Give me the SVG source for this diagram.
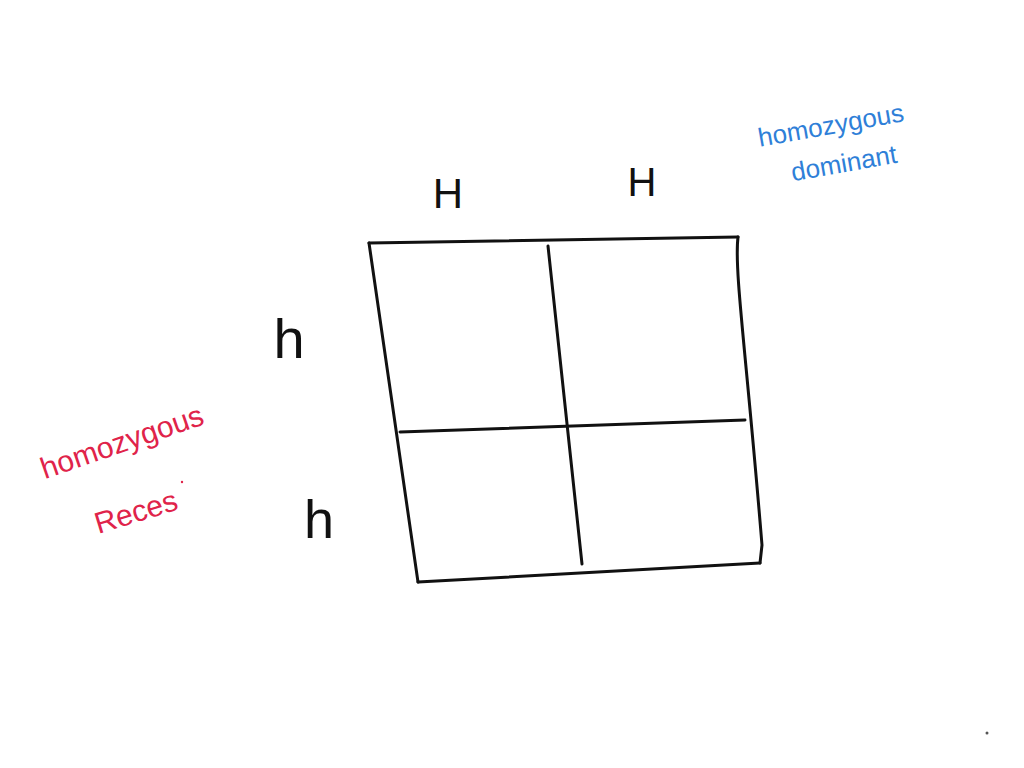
<svg xmlns="http://www.w3.org/2000/svg" width="1024" height="768" viewBox="0 0 1024 768">
<style>
.ln{fill:none;stroke:#111;stroke-width:3;stroke-linecap:round;stroke-linejoin:round}
.lbl{font-family:"Liberation Sans",Arial,sans-serif;fill:#111}
.blue{font-family:"Liberation Sans",Arial,sans-serif;fill:#2f7fd8;font-size:26px}
.red{font-family:"Liberation Sans",Arial,sans-serif;fill:#e0234a;font-size:30px}
</style>
<rect width="1024" height="768" fill="#fff"/>
<g id="grid">
<path class="ln" d="M369,243 L738,237"/>
<path class="ln" d="M369,243 L418,582"/>
<path class="ln" d="M738,237 C734,270 746,350 762,545 L760,563"/>
<path class="ln" d="M418,582 L760,563"/>
<path class="ln" d="M548,246 L582,564"/>
<path class="ln" d="M400,432 L745,420"/>
</g>
<g id="top-labels">
<text class="lbl" x="448" y="208" font-size="42" text-anchor="middle">H</text>
<text class="lbl" x="642" y="196" font-size="40" text-anchor="middle">H</text>
</g>
<g id="side-labels">
<text class="lbl" x="289" y="358" font-size="56" text-anchor="middle">h</text>
<text class="lbl" x="319" y="538" font-size="54" text-anchor="middle">h</text>
</g>
<g id="dominant-note">
<text class="blue" x="831" y="134" text-anchor="middle" transform="rotate(-10 831 126)">homozygous</text>
<text class="blue" x="844" y="172" text-anchor="middle" transform="rotate(-10 844 164)">dominant</text>
</g>
<g id="recessive-note">
<text class="red" x="122" y="452" text-anchor="middle" transform="rotate(-19 122 442)">homozygous</text>
<text class="red" x="136" y="522" text-anchor="middle" transform="rotate(-17 136 512)">Reces</text>
<circle cx="182" cy="482" r="1.2" fill="#e0234a"/>
</g>
<circle cx="987" cy="733" r="1.5" fill="#555"/>
</svg>
